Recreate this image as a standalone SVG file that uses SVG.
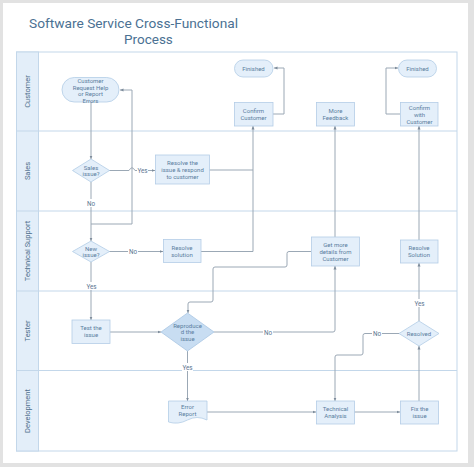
<svg xmlns="http://www.w3.org/2000/svg" width="474" height="467" viewBox="0 0 474 467">
<style>
.lane{fill:none;stroke:#c3d7ea;stroke-width:1}
.hdr{fill:#e3eef9;stroke:#c3d7ea;stroke-width:1}
.ln{font-family:Roboto,"Liberation Sans",sans-serif;font-size:7.5px;fill:#4f6f8c}
.nd{fill:#e4effa;stroke:#b3cde6;stroke-width:0.8}
.dk{fill:#c8ddf2;stroke:#a9c6e3;stroke-width:0.8}
.t{font-family:Roboto,"Liberation Sans",sans-serif;font-size:6px;fill:#5a7d9e;text-anchor:middle}
.c{fill:none;stroke:#9ba8b5;stroke-width:1}
.lb{font-family:Roboto,"Liberation Sans",sans-serif;font-size:6.3px;fill:#5a7590;text-anchor:middle}
.ti{font-family:Roboto,"Liberation Sans",sans-serif;font-size:13.5px;fill:#4b7193}
</style>
<defs>
<marker id="a" markerWidth="4" markerHeight="4" refX="3.5" refY="2" orient="auto" markerUnits="userSpaceOnUse">
<path d="M0,0.5 L3.5,2 L0,3.5 Z" fill="#7d8c9b"/>
</marker>
</defs>
<rect x="0" y="0" width="474" height="467" fill="#e2e2e2"/>
<rect x="3" y="3" width="465" height="460" fill="#ffffff"/>
<text class="ti" x="29" y="27.5" textLength="209" lengthAdjust="spacingAndGlyphs">Software Service Cross-Functional</text>
<text class="ti" x="124" y="43.5">Process</text>

<g id="pool">
<rect class="lane" x="16.5" y="52" width="440.5" height="399"/>
<rect class="hdr" x="16.5" y="52" width="22" height="399"/>
<line class="lane" x1="16.5" y1="131" x2="457" y2="131"/>
<line class="lane" x1="16.5" y1="211" x2="457" y2="211"/>
<line class="lane" x1="16.5" y1="291" x2="457" y2="291"/>
<line class="lane" x1="16.5" y1="370.5" x2="457" y2="370.5"/>
<text class="ln" text-anchor="middle" transform="translate(30,91.5) rotate(-90)">Customer</text>
<text class="ln" text-anchor="middle" transform="translate(30,171) rotate(-90)">Sales</text>
<text class="ln" text-anchor="middle" transform="translate(30,251) rotate(-90)">Technical Support</text>
<text class="ln" text-anchor="middle" transform="translate(30,331) rotate(-90)">Tester</text>
<text class="ln" text-anchor="middle" transform="translate(30,411) rotate(-90)">Development</text>
</g>

<g id="connectors">
<path class="c" d="M91,102 V159" marker-end="url(#a)"/>
<path class="c" d="M91,182 V241" marker-end="url(#a)"/>
<path class="c" d="M91,224 H132 V90 H120" marker-end="url(#a)"/>
<path class="c" d="M109,170.5 H129 Q132,165 135,170.5 H155" marker-end="url(#a)"/>
<path class="c" d="M209,170 H253"/>
<path class="c" d="M201,251.5 H253 V126" marker-end="url(#a)"/>
<path class="c" d="M273,114 H284 V68 H274" marker-end="url(#a)"/>
<path class="c" d="M109,251.5 H163" marker-end="url(#a)"/>
<path class="c" d="M91,262 V320" marker-end="url(#a)"/>
<path class="c" d="M110,332 H161" marker-end="url(#a)"/>
<path class="c" d="M311,251.5 H289 Q287,251.5 287,253.5 V265 Q287,267 285,267 H215 Q213,267 213,269 V300 Q213,302 211,302 H190 Q188,302 188,304 V313" marker-end="url(#a)"/>
<path class="c" d="M214,332 H333 Q335,332 335,330 V266" marker-end="url(#a)"/>
<path class="c" d="M335,237 V126" marker-end="url(#a)"/>
<path class="c" d="M187.5,351 V401" marker-end="url(#a)"/>
<path class="c" d="M207,412 H316" marker-end="url(#a)"/>
<path class="c" d="M354,412 H400" marker-end="url(#a)"/>
<path class="c" d="M419,401 V346" marker-end="url(#a)"/>
<path class="c" d="M399,333.5 H365 Q363,333.5 363,335.5 V353 Q363,355 361,355 H337 Q335,355 335,357 V401" marker-end="url(#a)"/>
<path class="c" d="M419,321 V263" marker-end="url(#a)"/>
<path class="c" d="M419,240 V126" marker-end="url(#a)"/>
<path class="c" d="M400,114 H386 V68 H398" marker-end="url(#a)"/>
<rect x="137" y="166" width="11" height="8" fill="#ffffff"/>
<text class="lb" x="142.5" y="172.5">Yes</text>
<rect x="86" y="199" width="10" height="8" fill="#ffffff"/>
<text class="lb" x="91" y="205.5">No</text>
<rect x="128" y="248" width="10" height="8" fill="#ffffff"/>
<text class="lb" x="133" y="254">No</text>
<rect x="86" y="282" width="11" height="8" fill="#ffffff"/>
<text class="lb" x="91.5" y="288.5">Yes</text>
<rect x="263" y="328" width="10" height="8" fill="#ffffff"/>
<text class="lb" x="268" y="334.5">No</text>
<rect x="182" y="363" width="11" height="8" fill="#ffffff"/>
<text class="lb" x="187.5" y="369.5">Yes</text>
<rect x="414" y="299" width="11" height="8" fill="#ffffff"/>
<text class="lb" x="419.5" y="305.5">Yes</text>
<rect x="372" y="330" width="10" height="8" fill="#ffffff"/>
<text class="lb" x="377" y="336">No</text>
</g>

<g id="n-request">
<rect class="nd" x="62" y="77.5" width="57" height="24.5" rx="12.25"/>
<text class="t" x="90.5" y="83">Customer</text>
<text class="t" x="90.5" y="89.5">Request Help</text>
<text class="t" x="90.5" y="96">or Report</text>
<text class="t" x="90.5" y="102.5">Errors</text>
</g>
<g id="n-finished1">
<rect class="nd" x="234.5" y="60" width="38.5" height="17" rx="8.5"/>
<text class="t" x="253.5" y="70.5">Finished</text>
</g>
<g id="n-confirm">
<rect class="nd" x="234.5" y="102.5" width="38.5" height="23.5"/>
<text class="t" x="253.5" y="112.5">Confirm</text>
<text class="t" x="253.5" y="119.5">Customer</text>
</g>
<g id="n-feedback">
<rect class="nd" x="316.5" y="102.5" width="38" height="23.5"/>
<text class="t" x="335.5" y="112.5">More</text>
<text class="t" x="335.5" y="119.5">Feedback</text>
</g>
<g id="n-finished2">
<rect class="nd" x="398.5" y="60" width="38" height="17" rx="8.5"/>
<text class="t" x="417.5" y="70.5">Finished</text>
</g>
<g id="n-confirmwith">
<rect class="nd" x="400.5" y="102.5" width="37.5" height="23.5"/>
<text class="t" x="419.5" y="110">Confirm</text>
<text class="t" x="419.5" y="117">with</text>
<text class="t" x="419.5" y="124">Customer</text>
</g>
<g id="n-salesissue">
<path class="nd" d="M91,159 L109.5,170.5 L91,182 L72.5,170.5 Z"/>
<text class="t" x="91" y="169.5">Sales</text>
<text class="t" x="91" y="176">issue?</text>
</g>
<g id="n-resolve-respond">
<rect class="nd" x="155.5" y="155" width="54" height="29"/>
<text class="t" x="182.5" y="165">Resolve the</text>
<text class="t" x="182.5" y="172">issue &amp; respond</text>
<text class="t" x="182.5" y="179">to customer</text>
</g>
<g id="n-newissue">
<path class="nd" d="M91,241 L109.5,251.5 L91,262 L72.5,251.5 Z"/>
<text class="t" x="91" y="250.5">New</text>
<text class="t" x="91" y="257">issue?</text>
</g>
<g id="n-resolvesolution">
<rect class="nd" x="163.5" y="239.5" width="37.5" height="23"/>
<text class="t" x="182" y="249.5">Resolve</text>
<text class="t" x="182" y="256.5">solution</text>
</g>
<g id="n-getmore">
<rect class="nd" x="311.5" y="237" width="48" height="29"/>
<text class="t" x="335.5" y="247">Get more</text>
<text class="t" x="335.5" y="254">details from</text>
<text class="t" x="335.5" y="261">Customer</text>
</g>
<g id="n-resolveSolution2">
<rect class="nd" x="400.5" y="240" width="37.5" height="23"/>
<text class="t" x="419" y="250">Resolve</text>
<text class="t" x="419" y="257">Solution</text>
</g>
<g id="n-test">
<rect class="nd" x="72" y="320" width="38" height="23.5"/>
<text class="t" x="91" y="330">Test the</text>
<text class="t" x="91" y="337">issue</text>
</g>
<g id="n-reproduce">
<path class="dk" d="M187.5,313 L214,332 L187.5,351 L161,332 Z"/>
<text class="t" x="187.5" y="327.5">Reproduce</text>
<text class="t" x="187.5" y="334">d the</text>
<text class="t" x="187.5" y="340.5">issue</text>
</g>
<g id="n-resolved">
<path class="nd" d="M419,321 L439,333.5 L419,346 L399,333.5 Z"/>
<text class="t" x="419" y="335.5">Resolved</text>
</g>
<g id="n-errorreport">
<path class="nd" d="M168.5,401 H207 V420 Q197,415 187.5,420 T168.5,422 Z"/>
<text class="t" x="187.5" y="409">Error</text>
<text class="t" x="187.5" y="416">Report</text>
</g>
<g id="n-technical">
<rect class="nd" x="316.5" y="401" width="38" height="23"/>
<text class="t" x="335.5" y="411">Technical</text>
<text class="t" x="335.5" y="418">Analysis</text>
</g>
<g id="n-fix">
<rect class="nd" x="400.5" y="401" width="38" height="23"/>
<text class="t" x="419.5" y="411">Fix the</text>
<text class="t" x="419.5" y="418">issue</text>
</g>
</svg>
